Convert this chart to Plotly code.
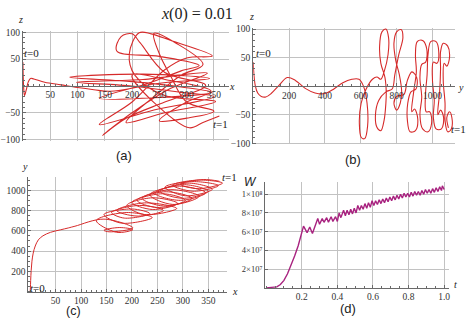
import plotly.graph_objects as go

# ---------------- data ----------------
# (a) trajectory projected on the x-z plane
a_x = [0, 0.5, 1.5, 3, 6, 10, 14, 20, 40, 70, 100, 130, 160,
       250, 342,
       220, 86,
       200, 290, 346,
       240, 140,
       230, 290, 323,
       250, 172,
       180, 200, 215,
       260, 335,
       260, 190, 146,
       200, 270, 338,
       220, 98,
       200, 290, 350,
       240, 140,
       200, 260, 300, 347,
       270, 235, 213,
       195, 205,
       260, 353,
       260, 189,
       240, 290, 330,
       280, 240,
       250, 270,
       300, 350,
       300, 250,
       300, 345,
       270, 200,
       250, 305,
       330, 345, 360]
a_z = [44, 20, -5, -18, -8, 8, 14, 13, 7, 2, -3, -7, -10,
       5, 14,
       22, 16,
       8, -2, -12,
       -22, -23,
       5, 28, 38,
       55, 65,
       92, 97, 80,
       25, 1,
       -30, -60, -92,
       -50, -5, 24,
       12, 7,
       0, -12, -20,
       -45, -72,
       -30, 30, 52, 56,
       85, 97, 99,
       60, 20,
       -18, -29,
       -50, -68,
       -20, 20, 40,
       80, 98,
       60, 20,
       -30, -47,
       -60, -65,
       -30, -10,
       10, 20,
       -40, -78,
       -68, -62, -56]

# (b) trajectory projected on the y-z plane
b_y = [0, 4, 12, 25, 45, 70, 100, 140, 190, 235, 290, 345, 400, 450, 500, 550, 590,
       615, 635, 638, 622, 603, 592, 602, 630, 665, 690, 712,
       730, 752, 755, 740, 718, 705, 712, 735, 742,
       740, 730, 712, 690, 682, 700, 740, 775,
       790, 812, 835, 825, 800, 785, 795, 815, 828,
       820, 800, 785, 800, 840,
       860, 885, 912, 908, 880, 862,
       860, 875, 905, 918, 900, 885,
       895, 910, 905, 915, 945, 968, 962, 940, 930,
       940, 930, 945, 975, 995, 985, 965, 960,
       970, 975, 990, 1020, 1035, 1025, 1005, 1000,
       1010, 1005, 1020, 1050, 1062, 1045, 1030,
       1040, 1045, 1045, 1060, 1085, 1095, 1080, 1065, 1060,
       1070, 1070, 1085, 1105, 1108, 1095, 1080, 1089]
b_z = [42, 20, 0, -12, -18, -19, -13, 0, 15, 10, -4, -12, -13, -5, 6, 12, 12,
       0, -30, -70, -92, -90, -65, -30, -5, 12, 16, 12,
       25, 55, 85, 100, 95, 70, 40, 15, -10,
       -30, -60, -78, -72, -50, -25, -10, -5,
       20, 55, 85, 99, 95, 75, 45, 20, -10,
       -30, -42, -30, -18, -15,
       10, 25, 15, -5, -10, -30,
       -60, -80, -78, -58, -40, -45,
       -10, 25, 55, 78, 80, 65, 42, 38, 15,
       -20, -50, -75, -80, -65, -45, -45, -20,
       20, 55, 78, 78, 60, 40, 42, 10,
       -25, -55, -75, -75, -55, -42, -50,
       -10, 30, 60, 75, 70, 50, 35, 40, 10,
       -30, -60, -80, -75, -55, -45, -55, -73]

# (c) trajectory projected on the x-y plane
c_x = [0, 0.5, 1, 2, 3.5, 6, 10, 16, 25, 40, 60, 75,
       88, 145, 202, 155,
       145, 175, 202, 170,
       130, 190, 240, 180,
       145, 200, 235, 185,
       160, 215, 262, 210,
       170, 225, 288, 225,
       190, 240, 290, 240,
       200, 260, 305, 250,
       210, 265, 318, 262,
       220, 275, 332, 280,
       235, 290, 345, 295,
       245, 300, 350, 300,
       255, 310, 358, 305,
       265, 320, 370, 320,
       280, 330, 378, 330,
       295, 340, 372]
c_y = [0, 40, 110, 210, 300, 380, 450, 510, 550, 585, 610, 628,
       645, 715, 628, 590,
       605, 632, 612, 585,
       700, 780, 730, 675,
       760, 815, 770, 725,
       780, 850, 800, 745,
       800, 875, 820, 760,
       850, 925, 870, 810,
       880, 965, 900, 830,
       900, 985, 920, 845,
       920, 1005, 940, 860,
       955, 1040, 975, 900,
       970, 1055, 990, 920,
       990, 1070, 1010, 945,
       1030, 1085, 1045, 990,
       1050, 1100, 1070, 1015,
       1060, 1105, 1088]

# (d) W(t), values in units of 10^7
d_t = [0, 0.02, 0.04, 0.06, 0.08, 0.10, 0.12, 0.14, 0.16, 0.18, 0.20, 0.21,
       0.23, 0.245, 0.26, 0.29, 0.30, 0.315, 0.325, 0.34, 0.35, 0.365, 0.375, 0.39, 0.40,
       0.41, 0.42, 0.435, 0.445, 0.455, 0.465, 0.475, 0.485, 0.495, 0.505,
       0.515, 0.525, 0.535, 0.545, 0.555, 0.565, 0.575, 0.585, 0.595, 0.605,
       0.615, 0.625, 0.635, 0.645, 0.655, 0.665, 0.675, 0.685, 0.695, 0.705,
       0.715, 0.725, 0.735, 0.745, 0.755, 0.765, 0.775, 0.785, 0.795, 0.805,
       0.815, 0.825, 0.835, 0.845, 0.855, 0.865, 0.875, 0.885, 0.895, 0.905,
       0.915, 0.925, 0.935, 0.945, 0.955, 0.965, 0.975, 0.985, 0.99, 1.0]
d_w = [0, 0.02, 0.05, 0.1, 0.35, 0.8, 1.5, 2.4, 3.4, 4.5, 5.9, 6.6,
       5.9, 6.5, 5.8, 7.4, 6.8, 7.4, 7.0, 7.5, 7.0, 7.6, 7.1, 7.6, 7.1,
       8.0, 7.5, 8.3, 7.7, 8.3, 7.8, 8.4, 7.9, 8.5, 8.0,
       8.8, 8.3, 8.8, 8.4, 9.0, 8.5, 9.1, 8.6, 9.3, 8.8,
       9.3, 8.9, 9.4, 9.0, 9.5, 9.1, 9.6, 9.2, 9.7, 9.3,
       9.8, 9.4, 9.9, 9.5, 10.0, 9.6, 10.1, 9.7, 10.1, 9.7,
       10.2, 9.8, 10.3, 9.9, 10.3, 9.9, 10.4, 10.0, 10.5, 10.1,
       10.5, 10.1, 10.6, 10.2, 10.7, 10.3, 10.8, 10.4, 10.9, 10.5]

# tick positions and labels
a_xticks = [50, 100, 150, 200, 250, 300, 350]
a_zticks = [-100, -50, 50, 100]
b_yticks = [200, 400, 600, 800, 1000]
b_zticks = [-100, -50, 50, 100]
c_xticks = [50, 100, 150, 200, 250, 300, 350]
c_yticks = [200, 400, 600, 800, 1000]
d_tticks = [0.2, 0.4, 0.6, 0.8, 1.0]
d_tticklabels = ["0.2", "0.4", "0.6", "0.8", "1.0"]
d_wticks = [2, 4, 6, 8, 10]
d_wticklabels = ["2×10⁷", "4×10⁷", "6×10⁷", "8×10⁷", "1×10⁸"]

# ---------------- styling ----------------
W_PX, H_PX = 474, 323
RED = "#d62a2a"
MAGENTA = "#a8227f"
GRID = "#c2c2c2"
AXIS = "#6a6a6a"
SERIF = "Liberation Serif"
SANS = "Liberation Sans"


def fx(p):
    return p / W_PX


def fy(p):
    return 1 - p / H_PX


def axis(**kw):
    base = dict(showgrid=True, gridcolor=GRID, gridwidth=1, zeroline=False,
                showline=True, linecolor=AXIS, linewidth=1,
                ticks="inside", ticklen=3, tickcolor=AXIS, tickwidth=1,
                tickmode="array",
                tickfont=dict(family=SERIF, size=9.5, color="#333"),
                fixedrange=True)
    base.update(kw)
    return base


def minor(step):
    return dict(tickmode="linear", tick0=0, dtick=step, ticks="inside",
                ticklen=1.8, tickcolor=AXIS, showgrid=False)


fig = go.Figure()
line_kw = dict(mode="lines", hoverinfo="skip", showlegend=False)
fig.add_trace(go.Scatter(x=a_x, y=a_z, xaxis="x", yaxis="y",
                         line=dict(color=RED, width=1.1, shape="spline", smoothing=1.0), **line_kw))
fig.add_trace(go.Scatter(x=b_y, y=b_z, xaxis="x2", yaxis="y2",
                         line=dict(color=RED, width=1.1, shape="spline", smoothing=1.0), **line_kw))
fig.add_trace(go.Scatter(x=c_x, y=c_y, xaxis="x3", yaxis="y3",
                         line=dict(color=RED, width=1.0, shape="spline", smoothing=1.0), **line_kw))
fig.add_trace(go.Scatter(x=d_t, y=d_w, xaxis="x4", yaxis="y4",
                         line=dict(color=MAGENTA, width=1.4), **line_kw))

fig.update_layout(
    width=W_PX, height=H_PX,
    margin=dict(l=0, r=0, t=0, b=0),
    paper_bgcolor="white", plot_bgcolor="white",
    # (a)
    xaxis=axis(domain=[fx(23), fx(230)], range=[0, 377.7], anchor="free", position=fy(84),
               tickvals=a_xticks, minor=minor(10)),
    yaxis=axis(domain=[fy(140.7), fy(27.3)], range=[-103, 103], anchor="x",
               tickvals=a_zticks, minor=minor(10)),
    # (b)
    xaxis2=axis(domain=[fx(254.3), fx(457)], range=[0, 1126], anchor="free", position=fy(84.2),
                tickvals=b_yticks, minor=minor(50)),
    yaxis2=axis(domain=[fy(143.9), fy(24.5)], range=[-102, 102], anchor="x2",
                tickvals=b_zticks, minor=minor(10)),
    # (c)
    xaxis3=axis(domain=[fx(28.5), fx(227.8)], range=[-3.5, 386.5], anchor="free", position=fy(295),
                tickvals=c_xticks, minor=minor(10)),
    yaxis3=axis(domain=[fy(296), fy(177)], range=[-10, 1134], anchor="x3",
                tickvals=c_yticks, minor=minor(50)),
    # (d)
    xaxis4=axis(domain=[fx(266.2), fx(450.5)], range=[-0.006, 1.025], anchor="free", position=fy(291),
                tickvals=d_tticks, ticktext=d_tticklabels, minor=minor(0.05)),
    yaxis4=axis(domain=[fy(292), fy(182.6)], range=[-0.1, 11.3], anchor="x4",
                tickvals=d_wticks, ticktext=d_wticklabels,
                tickfont=dict(family=SERIF, size=8.5, color="#333")),
)


def note(text, x, y, size=10, family=SERIF, xanchor="center", color="#222"):
    fig.add_annotation(text=text, x=fx(x), y=fy(y), xref="paper", yref="paper",
                       showarrow=False, xanchor=xanchor, yanchor="middle",
                       font=dict(family=family, size=size, color=color))


# title
note("<i>x</i>(0) = 0.01", 198, 10, size=16)
# panel tags
note("(a)", 125, 155, size=13, family=SANS)
note("(b)", 354, 159, size=13, family=SANS)
note("(c)", 74, 315, size=12.5, family=SANS)
note("(d)", 349, 312, size=13, family=SANS)
# axis names
note("<i>z</i>", 21, 16, size=10)
note("<i>x</i>", 233, 85, size=10)
note("<i>z</i>", 253, 13, size=10)
note("<i>y</i>", 463, 86, size=10)
note("<i>y</i>", 25, 167, size=10)
note("<i>x</i>", 236, 295, size=10)
note("<i>W</i>", 252, 183, size=12, family=SANS)
note("<i>t</i>", 457, 288, size=10)
# start/end markers of the trajectories
note("<i>t</i>=0", 32, 50, size=11)
note("<i>t</i>=1", 221, 123, size=11)
note("<i>t</i>=0", 265, 50, size=11)
note("<i>t</i>=1", 460, 128, size=11)
note("<i>t</i>=0", 38, 291, size=11)
note("<i>t</i>=1", 230, 177, size=11)

fig.write_html("out.html")
